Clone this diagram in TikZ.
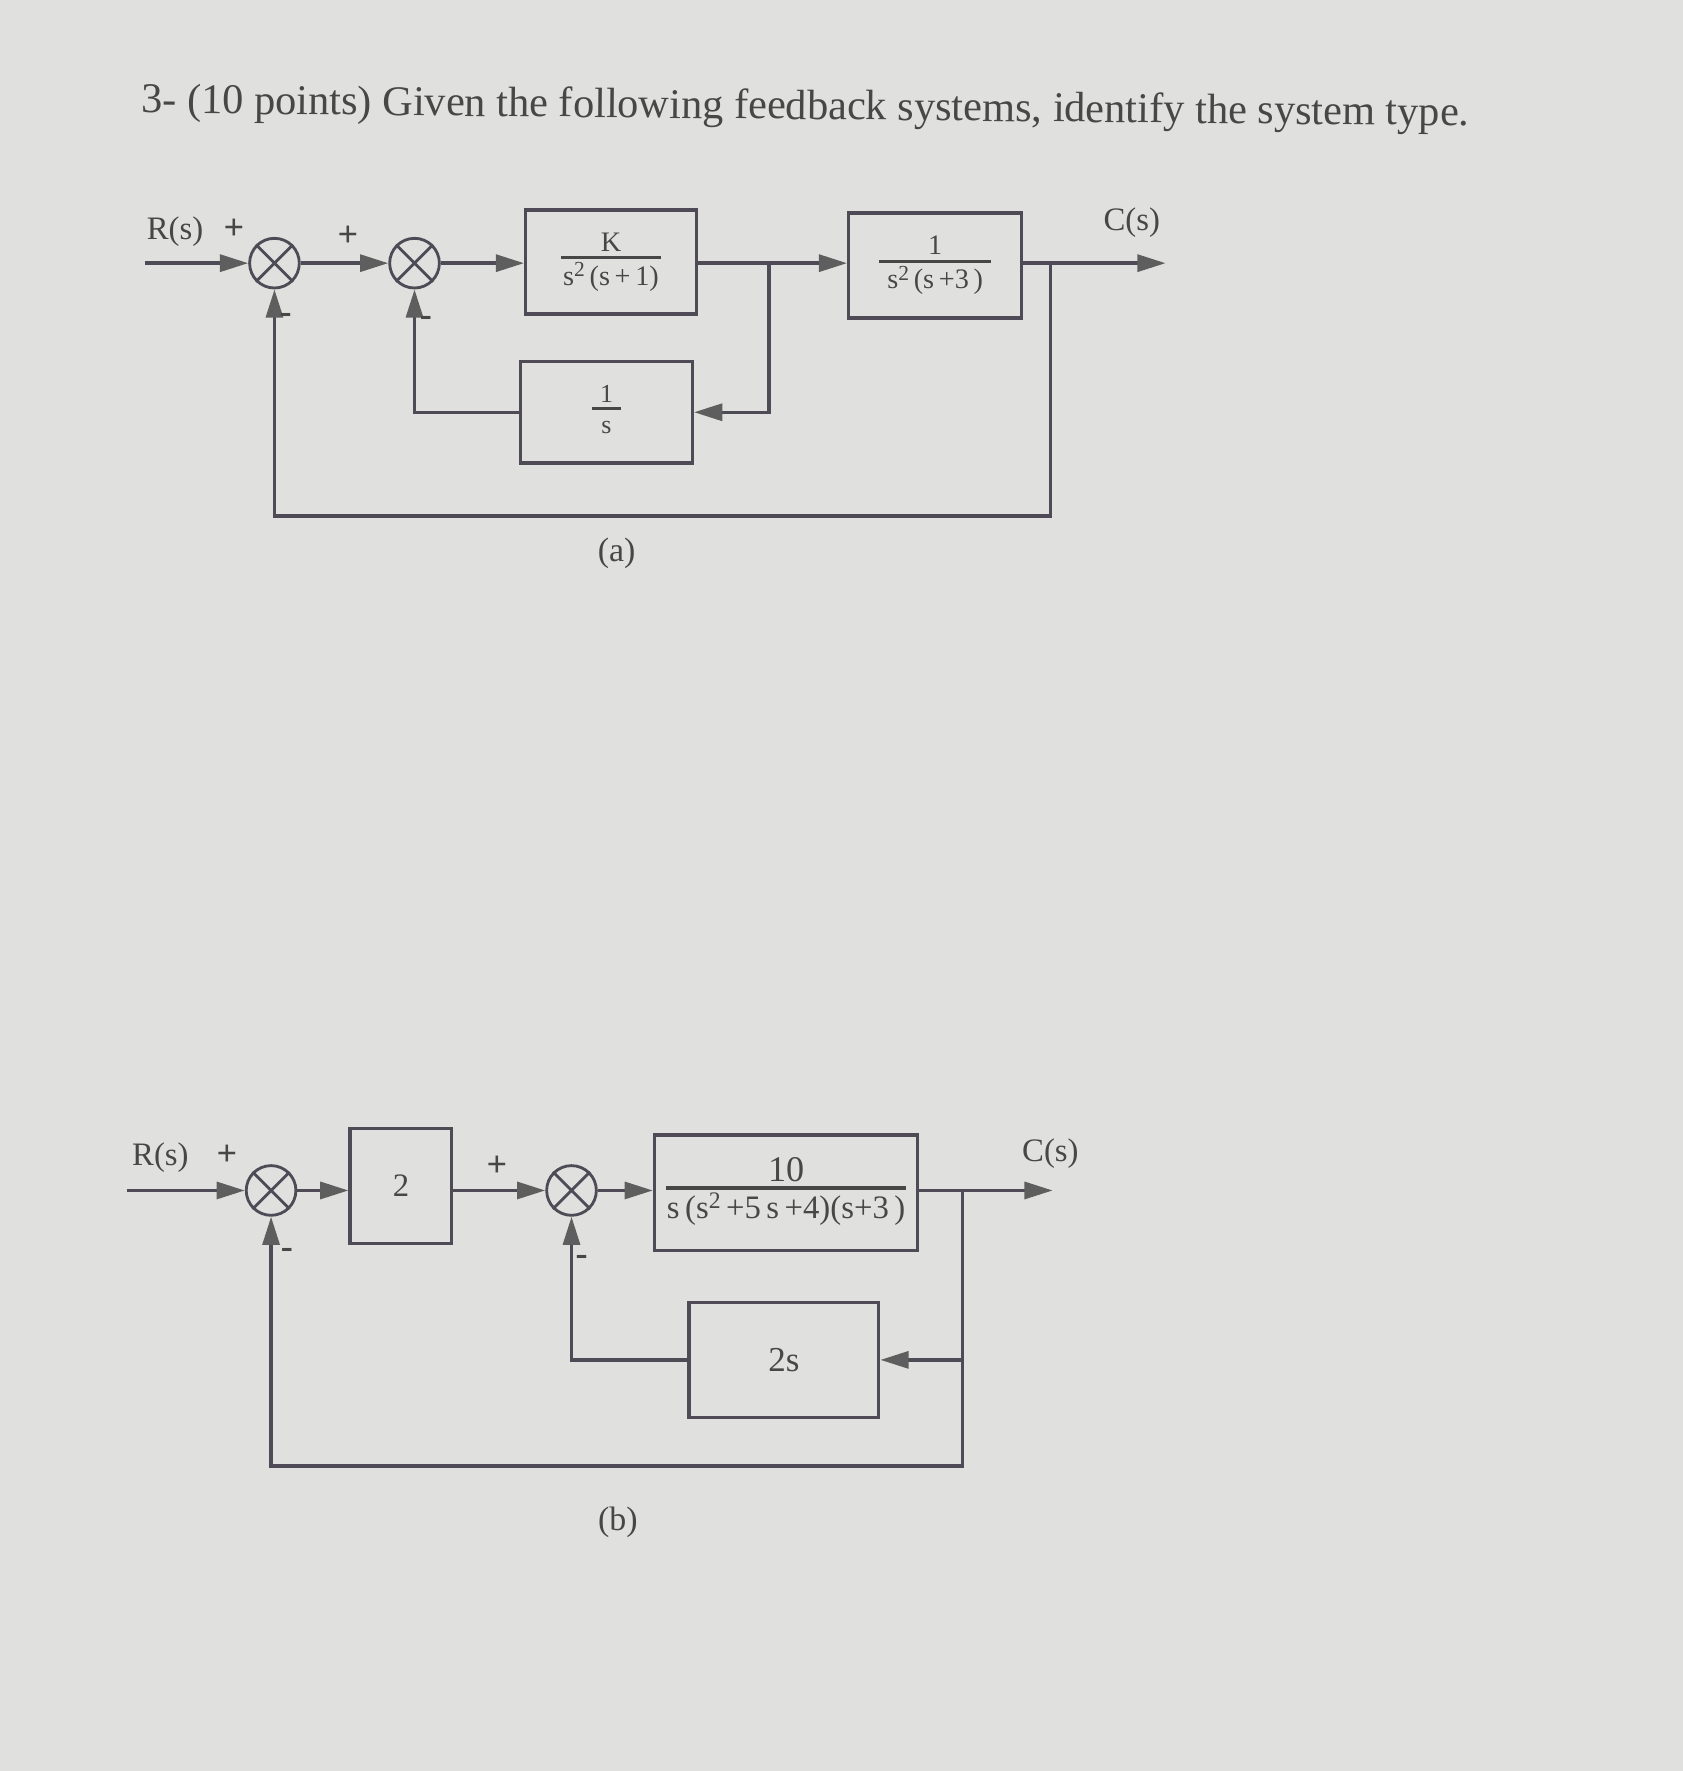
\documentclass[tikz,border=0pt]{standalone}
\usepackage{fontspec}
\setmainfont{Liberation Serif}
\usetikzlibrary{arrows.meta}
\definecolor{bg}{HTML}{E0E0DE}
\definecolor{ln}{HTML}{4E4B56}
\definecolor{tx}{HTML}{474747}
\definecolor{ah}{HTML}{5E5E5E}
\newlength\frw
\newcommand{\fr}[4][2.5pt]{% #1 bar thickness, #2 extra width, #3 numerator, #4 denominator
  \settowidth{\frw}{#4}\addtolength{\frw}{#2}%
  \begin{tabular}{@{}c@{}}#3\\[-0.85em]\rule{\frw}{#1}\\[-0.22em]#4\end{tabular}}
\newcommand{\crs}[1]{\draw[xline] (#1.north east) -- (#1.south west) (#1.north west) -- (#1.south east);}
\newcommand{\sq}{\raisebox{0.3em}{\fontsize{19}{21}\selectfont 2}}
\begin{document}
\begin{tikzpicture}[x=1pt,y=-1pt,
  wire/.style={draw=ln,line width=3pt},
  arr/.style={wire,-{Triangle[length=25pt,width=15pt,fill=ah,color=ah]}},
  sumj/.style={circle,draw=ln,line width=2.5pt,minimum size=44pt,inner sep=0pt},
  xline/.style={draw=ln,line width=2.5pt},
  blk/.style={rectangle,draw=ln,line width=3pt,inner sep=0pt,text=tx,align=center},
  lbl/.style={text=tx,inner sep=0pt,font=\fontsize{29}{33}\selectfont},
  sgn/.style={text=tx,inner sep=0pt,font=\fontsize{32}{35}\selectfont\bfseries},
  captxt/.style={text=tx,inner sep=0pt,font=\fontsize{30}{34}\selectfont}]
\fill[bg] (0,0) rectangle (1490,1568);
\useasboundingbox (0,0) rectangle (1490,1568);

% title
\node[text=tx,inner sep=0pt,anchor=base west,rotate=-0.55,font=\fontsize{37.5}{44}\selectfont] (title) at (125,100)
  {3- (10 points) Given the following feedback systems, identify the system type.};

% ---------------- (a) ----------------
\coordinate (ina) at (128,233);
\node[sumj] (s1a) at (243,233) {}; \crs{s1a}
\node[sumj] (s2a) at (367,233) {}; \crs{s2a}
\node[blk,minimum width=151pt,minimum height=92pt,font=\fontsize{25}{28}\selectfont] (b1a) at (541,232)
  {\fr{4pt}{K}{s\sq\,(s\,+\,1)}};
\node[blk,minimum width=153pt,minimum height=93pt,font=\fontsize{25}{28}\selectfont] (b2a) at (828,235)
  {\fr{14pt}{1}{s\sq\,(s\,+3\,)}};
\node[blk,minimum width=152pt,minimum height=90pt,font=\fontsize{23}{26}\selectfont] (b3a) at (537,365)
  {\fr{16pt}{1}{s}};
\coordinate (j1a) at (681,233);
\coordinate (j2a) at (930,233);
\coordinate (outa) at (1032,233);
\coordinate (c1a) at (930,457);

\draw[arr] (ina) -- (s1a);
\draw[arr] (s1a) -- (s2a);
\draw[arr] (s2a) -- (b1a.west |- s2a);
\draw[wire] (b1a.east |- j1a) -- (j1a);
\draw[arr] (j1a) -- (b2a.west |- j1a);
\draw[arr] (j1a) |- (b3a);
\draw[arr] (b3a) -| (s2a);
\draw[wire] (b2a.east |- j2a) -- (j2a);
\draw[arr] (j2a) -- (outa);
\draw[arr] (j2a) -- (c1a) -| (s1a);

\node[lbl] (ra) at (155,205) {R(s)};
\node[sgn] (pa1) at (207,203) {+};
\node[sgn] (pa2) at (308,209) {+};
\node[sgn] (ma1) at (253,282) {-};
\node[sgn] (ma2) at (377,285) {-};
\node[lbl] (ca) at (1002,197) {C(s)};
\node[captxt] (capa) at (546,490) {(a)};

% ---------------- (b) ----------------
\coordinate (inb) at (112,1054);
\node[sumj] (s1b) at (240,1054) {}; \crs{s1b}
\node[blk,minimum width=90pt,minimum height=102pt,font=\fontsize{29}{32}\selectfont] (b1b) at (355,1050) {2};
\node[sumj] (s2b) at (506,1054) {}; \crs{s2b}
\node[blk,minimum width=233pt,minimum height=102pt,font=\fontsize{29}{32}\selectfont] (b2b) at (696,1056)
  {\fr[3pt]{2pt}{\fontsize{32}{35}\selectfont 10}{s\,(s\raisebox{0.3em}{\fontsize{21}{23}\selectfont 2}\,+5\,s\,+4)(s+3\,)}};
\node[blk,minimum width=168pt,minimum height=102pt,font=\fontsize{31}{34}\selectfont] (b3b) at (694,1204) {2s};
\coordinate (j1b) at (852,1054);
\coordinate (outb) at (932,1054);
\coordinate (c1b) at (852,1298);

\draw[arr] (inb) -- (s1b);
\draw[arr] (s1b) -- (b1b.west |- s1b);
\draw[arr] (b1b.east |- s2b) -- (s2b);
\draw[arr] (s2b) -- (b2b.west |- s2b);
\draw[wire] (b2b.east |- j1b) -- (j1b);
\draw[arr] (j1b) -- (outb);
\draw[arr] (j1b) |- (b3b);
\draw[arr] (b3b) -| (s2b);
\draw[arr] (j1b) -- (c1b) -| (s1b);

\node[lbl] (rb) at (142,1025) {R(s)};
\node[sgn] (pb1) at (201,1023) {+};
\node[sgn] (pb2) at (440,1033) {+};
\node[sgn] (mb1) at (254,1110) {-};
\node[sgn] (mb2) at (515,1116) {-};
\node[lbl] (cb) at (930,1021) {C(s)};
\node[captxt] (capb) at (547,1348) {(b)};
\end{tikzpicture}
\end{document}
